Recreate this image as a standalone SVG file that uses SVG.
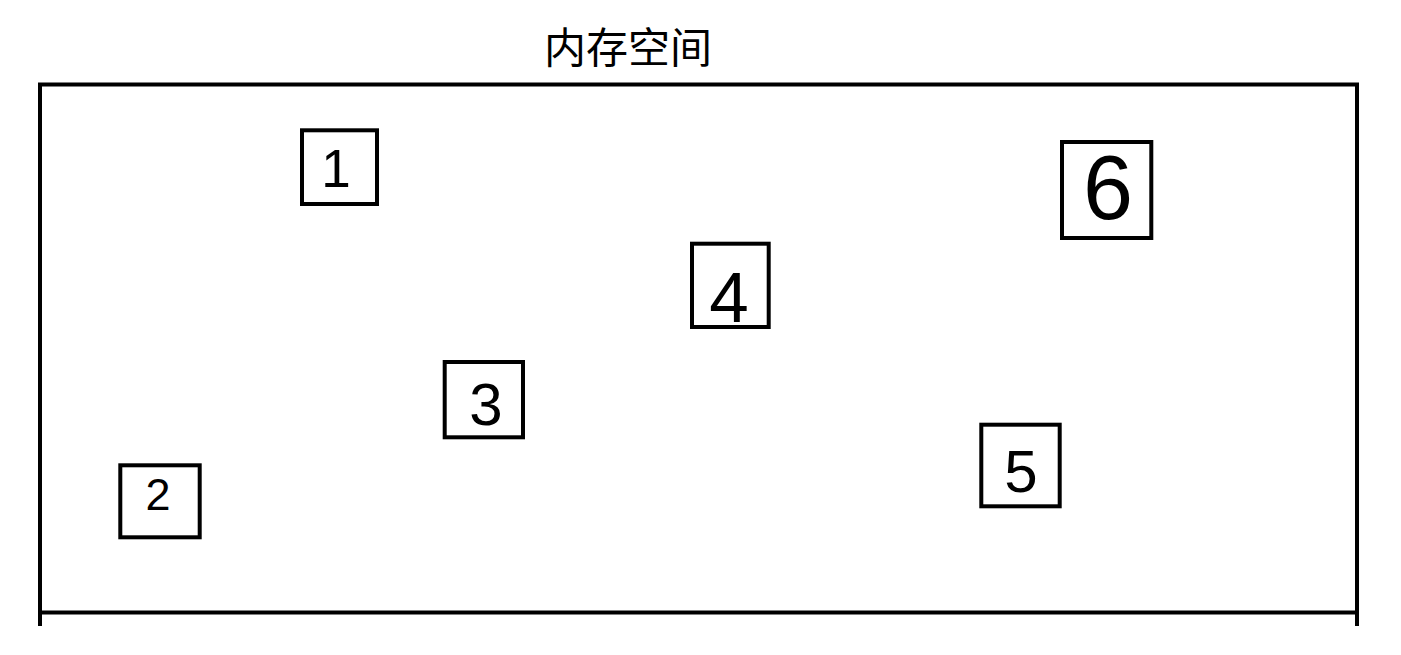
<svg xmlns="http://www.w3.org/2000/svg" width="1401" height="655" viewBox="0 0 1401 655">
  <style>
    .frame { fill: none; stroke: #000; stroke-width: 4; stroke-linecap: butt; }
    .box rect { fill: none; stroke: #000; stroke-width: 4; }
    .box text { font-family: "Liberation Sans", Arial, sans-serif; fill: #000; text-anchor: middle; }
    .title { font-family: "Noto Sans CJK SC", "Noto Sans", sans-serif; font-size: 42px; fill: #000; text-anchor: middle; }
  </style>
  <rect width="1401" height="655" fill="#fff"/>
  <g id="memory-space">
    <text class="title" x="628" y="63">内存空间</text>
    <path class="frame" d="M40,626 V84.5 H1357 V626 M40,612.5 H1357"/>
  </g>
  <g id="connectors"></g>
  <g id="node-1" class="box">
    <rect x="302" y="130.3" width="75" height="73.7"/>
    <text x="336" y="187" font-size="53">1</text>
  </g>
  <g id="node-2" class="box">
    <rect x="120.3" y="465.3" width="79.4" height="72"/>
    <text x="158" y="510" font-size="45">2</text>
  </g>
  <g id="node-3" class="box">
    <rect x="444.7" y="362" width="78.3" height="75.3"/>
    <text x="486" y="425" font-size="60">3</text>
  </g>
  <g id="node-4" class="box">
    <rect x="692" y="243.7" width="76.7" height="83.3"/>
    <text x="729" y="322" font-size="71">4</text>
  </g>
  <g id="node-5" class="box">
    <rect x="981.3" y="424.7" width="78.4" height="81.6"/>
    <text x="1021" y="492" font-size="60">5</text>
  </g>
  <g id="node-6" class="box">
    <rect x="1062" y="142" width="89.3" height="96"/>
    <text x="1108" y="219" font-size="90">6</text>
  </g>
</svg>
